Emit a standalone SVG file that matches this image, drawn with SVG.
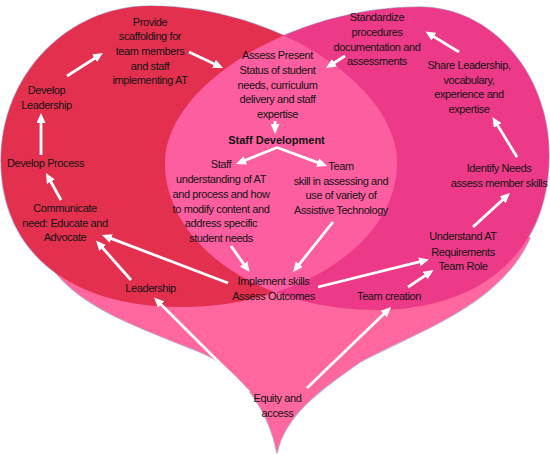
<svg xmlns="http://www.w3.org/2000/svg" width="550" height="454" viewBox="0 0 550 454">
<style>
.t{font-family:"Liberation Sans",Arial,sans-serif;font-size:11px;fill:#141414;text-anchor:middle;letter-spacing:-0.4px}
.b{font-weight:bold;letter-spacing:0}
.c line{stroke:#fff;stroke-width:2.8;marker-end:url(#ah)}
.halo{fill:none;stroke:#b3bddc;stroke-width:1.6}
</style>
<defs>
<marker id="ah" markerUnits="userSpaceOnUse" viewBox="0 0 10 9" refX="4" refY="4.5" markerWidth="10" markerHeight="9" orient="auto">
<path d="M0,0 L10,4.5 L0,9 Z" fill="#fff"/>
</marker>
<clipPath id="clipR"><path d="M165,163 C165,85 292.5,7 420,7 C491,7 549,73.3 549,155 C549,251 483,310 375,310 C259,310 165,244 165,163 Z"/></clipPath>
</defs>
<g id="heart">
<path class="halo" d="M36,240 C60,300 120,320 200,352 C235,366 268,405 277,453 C285,415 320,390 360,362 C420,330 500,305 530,238 L400,150 L150,150 Z"/>
<path class="halo" d="M1,160 C1,75 68,6 150,6 C273.5,6 397,84.5 397,163 C397,242.5 300,307 180,307 C69,307 1,251 1,160 Z"/>
<path class="halo" d="M165,163 C165,85 292.5,7 420,7 C491,7 549,73.3 549,155 C549,251 483,310 375,310 C259,310 165,244 165,163 Z"/>
<path id="tip" fill="#ff679e" d="M36,240 C60,300 120,320 200,352 C235,366 268,405 277,453 C285,415 320,390 360,362 C420,330 500,305 530,238 L400,150 L150,150 Z"/>
<path id="leftLobe" fill="#e4304f" d="M1,160 C1,75 68,6 150,6 C273.5,6 397,84.5 397,163 C397,242.5 300,307 180,307 C69,307 1,251 1,160 Z"/>
<path id="rightLobe" fill="#ec3a88" d="M165,163 C165,85 292.5,7 420,7 C491,7 549,73.3 549,155 C549,251 483,310 375,310 C259,310 165,244 165,163 Z"/>
<path id="lens" fill="#fd5e9f" clip-path="url(#clipR)" d="M1,160 C1,75 68,6 150,6 C273.5,6 397,84.5 397,163 C397,242.5 300,307 180,307 C69,307 1,251 1,160 Z"/>
</g>
<g id="connectors" class="c">
<line x1="67" y1="76" x2="97.9" y2="56.2"/>
<line x1="41" y1="155" x2="41" y2="119"/>
<line x1="61" y1="200" x2="48.9" y2="178.2"/>
<line x1="189" y1="52" x2="217.6" y2="65.4"/>
<line x1="345" y1="56" x2="331.1" y2="64.8"/>
<line x1="275" y1="121" x2="275" y2="128"/>
<line x1="277" y1="147.5" x2="241.6" y2="161.8"/>
<line x1="277" y1="147.5" x2="321.4" y2="163.9"/>
<line x1="231" y1="246" x2="246" y2="267.1"/>
<line x1="333" y1="222" x2="296.8" y2="267.3"/>
<line x1="228" y1="283" x2="107.6" y2="237.1"/>
<line x1="131" y1="280" x2="100" y2="245"/>
<line x1="249" y1="392" x2="158.3" y2="301.7"/>
<line x1="307" y1="388" x2="386.7" y2="311.2"/>
<line x1="318" y1="287" x2="423.2" y2="260.9"/>
<line x1="408" y1="287" x2="428.5" y2="273.3"/>
<line x1="473" y1="227" x2="505.6" y2="197.1"/>
<line x1="517" y1="157" x2="495.6" y2="122.1"/>
<line x1="459" y1="52" x2="430.5" y2="34.6"/>
</g>
<g id="provide"><text class="t" x="150" y="25.5">Provide</text><text class="t" x="150" y="40">scaffolding for</text><text class="t" x="150" y="54.5">team members</text><text class="t" x="150" y="69.5">and staff</text><text class="t" x="150" y="84">implementing AT</text></g>
<g id="developLeadership"><text class="t" x="46.5" y="94">Develop</text><text class="t" x="46.5" y="109">Leadership</text></g>
<g id="developProcess"><text class="t" x="45.5" y="167">Develop Process</text></g>
<g id="communicate"><text class="t" x="65" y="212">Communicate</text><text class="t" x="65" y="226.5">need: Educate and</text><text class="t" x="65" y="241">Advocate</text></g>
<g id="leadership"><text class="t" x="150.5" y="292">Leadership</text></g>
<g id="assessPresent"><text class="t" x="277.5" y="59">Assess Present</text><text class="t" x="277.5" y="74">Status of student</text><text class="t" x="277.5" y="88.5">needs, curriculum</text><text class="t" x="277.5" y="103">delivery and staff</text><text class="t" x="277.5" y="118">expertise</text></g>
<g id="staffDevelopment"><text class="t b" x="276.5" y="144">Staff Development</text></g>
<g id="staff"><text class="t" x="221" y="168">Staff</text><text class="t" x="221" y="183">understanding of AT</text><text class="t" x="221" y="198">and process and how</text><text class="t" x="221" y="212.5">to modify content and</text><text class="t" x="221" y="227">address specific</text><text class="t" x="221" y="241.5">student needs</text></g>
<g id="team"><text class="t" x="341" y="169.5">Team</text><text class="t" x="341" y="184.5">skill in assessing and</text><text class="t" x="341" y="199">use of variety of</text><text class="t" x="341" y="214">Assistive Technology</text></g>
<g id="implement"><text class="t" x="273.5" y="284.5">Implement skills</text><text class="t" x="273.5" y="299.5">Assess Outcomes</text></g>
<g id="teamCreation"><text class="t" x="389" y="300">Team creation</text></g>
<g id="understandAT"><text class="t" x="463" y="240">Understand AT</text><text class="t" x="463" y="255.5">Requirements</text><text class="t" x="463" y="269.5">Team Role</text></g>
<g id="identifyNeeds"><text class="t" x="499" y="172">Identify Needs</text><text class="t" x="499" y="186.5">assess member skills</text></g>
<g id="shareLeadership"><text class="t" x="469" y="69">Share Leadership,</text><text class="t" x="469" y="84">vocabulary,</text><text class="t" x="469" y="98">experience and</text><text class="t" x="469" y="113">expertise</text></g>
<g id="standardize"><text class="t" x="377" y="20.5">Standardize</text><text class="t" x="377" y="35.5">procedures</text><text class="t" x="377" y="50.5">documentation and</text><text class="t" x="377" y="65">assessments</text></g>
<g id="equity"><text class="t" x="277.5" y="402">Equity and</text><text class="t" x="277.5" y="416.5">access</text></g>
</svg>
